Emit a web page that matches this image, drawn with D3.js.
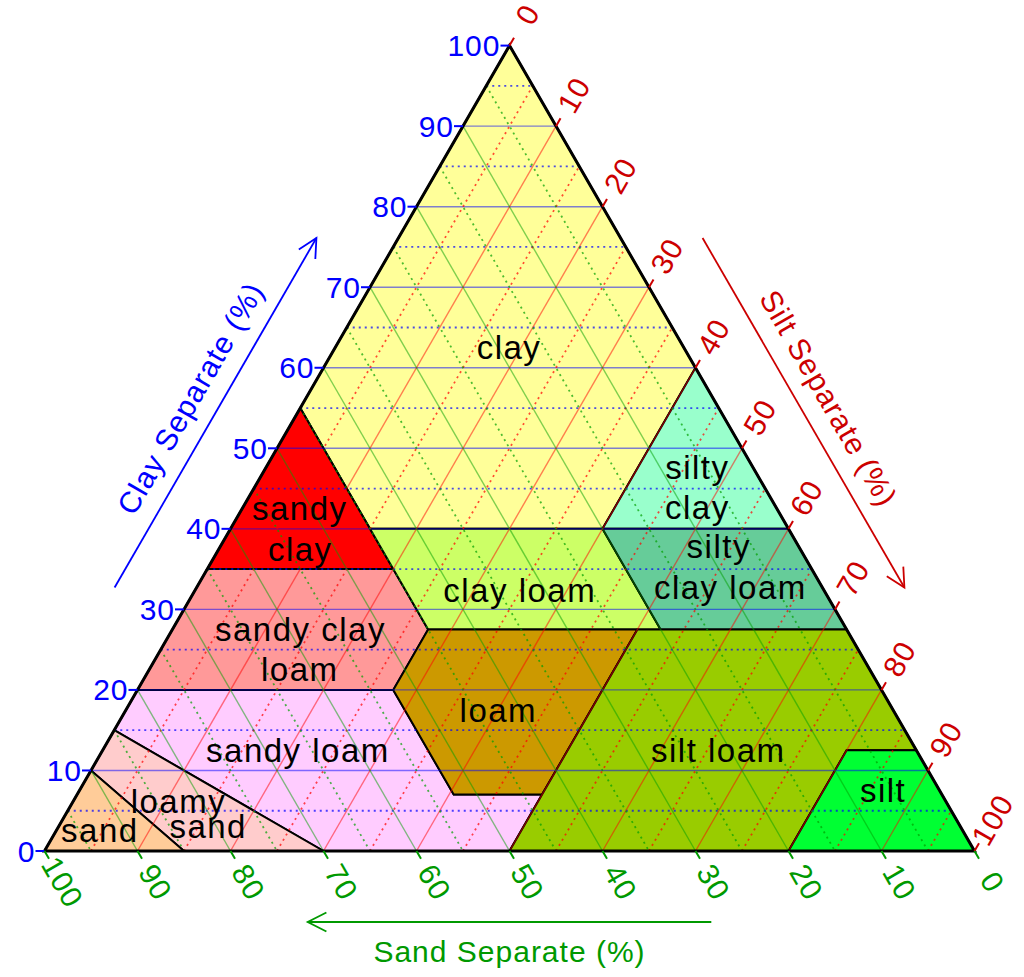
<!DOCTYPE html>
<html><head><meta charset="utf-8">
<script src="https://cdn.jsdelivr.net/npm/d3@7"></script>
<style>
html,body{margin:0;padding:0;background:#fff;}
svg{display:block;font-family:"Liberation Sans",Arial,Helvetica,sans-serif;}
</style></head><body>
<svg id="chart" width="1024" height="977"></svg>
<script>
// ---------------- data ----------------
const tickValues = [0,10,20,30,40,50,60,70,80,90,100];
const majorGrid = [10,20,30,40,50,60,70,80,90];
const minorGrid = [5,15,25,35,45,55,65,75,85,95];

// texture class polygons, vertices as [sand, silt, clay] (%)
const clayPoly          = [[0,40,60],[0,0,100],[45,0,55],[45,15,40],[20,40,40]];
const sandyClayPoly     = [[45,0,55],[65,0,35],[45,20,35],[45,15,40]];
const siltyClayPoly     = [[0,40,60],[20,40,40],[0,60,40]];
const sandyClayLoamPoly = [[80,0,20],[65,0,35],[45,20,35],[45,27.5,27.5],[52.5,27.5,20]];
const clayLoamPoly      = [[45,15,40],[20,40,40],[20,52.5,27.5],[45,27.5,27.5]];
const siltyClayLoamPoly = [[20,40,40],[0,60,40],[0,72.5,27.5],[20,52.5,27.5]];
const sandyLoamPoly     = [[85,0,15],[80,0,20],[52.5,27.5,20],[52.5,40.5,7],[43,50,7],[50,50,0],[70,30,0]];
const loamPoly          = [[45,27.5,27.5],[22.5,50,27.5],[43,50,7],[52.5,40.5,7],[52.5,27.5,20]];
const siltLoamPoly      = [[50,50,0],[43,50,7],[22.5,50,27.5],[0,72.5,27.5],[0,87.5,12.5],[7.5,80,12.5],[20,80,0]];
const siltPoly          = [[20,80,0],[7.5,80,12.5],[0,87.5,12.5],[0,100,0]];
const loamySandPoly     = [[90,0,10],[85,0,15],[70,30,0],[85,15,0]];
const sandPoly          = [[100,0,0],[90,0,10],[85,15,0]];

const classNames  = ["clay","sandy clay","silty clay","sandy clay loam","clay loam","silty clay loam",
                     "sandy loam","loam","silt loam","silt","loamy sand","sand"];
const classPolys  = [clayPoly,sandyClayPoly,siltyClayPoly,sandyClayLoamPoly,clayLoamPoly,siltyClayLoamPoly,
                     sandyLoamPoly,loamPoly,siltLoamPoly,siltPoly,loamySandPoly,sandPoly];
const classColors = ["#ffff99","#ff0000","#99ffcc","#ff9999","#ccff66","#66cc99",
                     "#ffccff","#cc9900","#99cc00","#00ff33","#ffcccc","#ffcc99"];

// label lines and their anchor compositions [sand, clay] (%)
const labelText = ["clay","sandy","clay","silty","clay","silty","clay loam","clay loam",
                   "sandy clay","loam","loam","silt loam","sandy loam","silt","loamy","sand","sand"];
const labelAt   = [[18.8,62.5],[51.3,42.5],[53.8,37.4],[6,47.6],[8.5,42.6],[8.6,37.8],[9.9,32.7],[32.7,32.4],
                   [58.75,27.45],[61.3,22.5],[42.5,17.4],[21.3,12.5],[66.5,12.5],[6.1,7.45],[82.5,6.2],[80.9,3],[92.8,2.5]];

const axisTitles = ["Clay Separate (%)","Silt Separate (%)","Sand Separate (%)"];

// ---------------- layout ----------------
const svg = d3.select("#chart");
const side = 930, x0 = 44.5, y0 = 851;
const hgt = side*Math.sqrt(3)/2;
const X = d3.scaleLinear().domain([0,100]).range([x0, x0+side]);
const Y = d3.scaleLinear().domain([0,100]).range([y0, y0-hgt]);
const pt = (sand, silt, clay) => [X(silt + clay/2), Y(clay)];
const line = d3.line();

const BLUE = "#0000ff", RED = "#cc0000", GREEN = "#009900";
const s3 = Math.sqrt(3)/2;

// polygons
svg.append("g").selectAll("path").data(classPolys).join("path")
  .attr("d", (p) => line(p.map(v => pt(v[0],v[1],v[2]))) + "Z")
  .attr("fill", (p,i) => classColors[i])
  .attr("stroke", "#000").attr("stroke-width", 2).attr("stroke-linejoin","miter");

// grid
const grid = svg.append("g");
function clayLine(c){ return [pt(100-c,0,c), pt(0,100-c,c)]; }
function siltLine(t){ return [pt(100-t,t,0), pt(0,t,100-t)]; }
function sandLine(s){ return [pt(s,0,100-s), pt(s,100-s,0)]; }
const gridSpecs = [
  {f: clayLine, col: "#0000ff"},
  {f: siltLine, col: "#ff0000"},
  {f: sandLine, col: "#00a000"}
];
gridSpecs.forEach(g => {
  grid.append("g").selectAll("path").data(majorGrid).join("path")
    .attr("d", v => line(g.f(v)))
    .attr("fill","none").attr("stroke", g.col).attr("stroke-width", 1.4).attr("stroke-opacity", 0.5);
  grid.append("g").selectAll("path").data(minorGrid).join("path")
    .attr("d", v => line(g.f(v)))
    .attr("fill","none").attr("stroke", g.col).attr("stroke-width", 1.8).attr("stroke-opacity", 0.7)
    .attr("stroke-dasharray","2,4");
});

// outer triangle
svg.append("path")
  .attr("d", line([pt(100,0,0), pt(0,100,0), pt(0,0,100)]) + "Z")
  .attr("fill","none").attr("stroke","#000").attr("stroke-width",3).attr("stroke-linejoin","miter");

// axes: ticks and labels
const axes = [
  {col: BLUE,  pos: v => pt(100-v,0,v), dir: [-1,0], rot: 0},
  {col: RED,   pos: v => pt(0,v,100-v), dir: [0.5,-s3], rot: -60},
  {col: GREEN, pos: v => pt(v,100-v,0), dir: [0.5, s3], rot: 60}
];
const tickLen = 9;
axes.forEach((a, ai) => {
  const g = svg.append("g");
  g.selectAll("line").data(tickValues).join("line")
    .attr("x1", v => a.pos(v)[0]).attr("y1", v => a.pos(v)[1])
    .attr("x2", v => a.pos(v)[0] + a.dir[0]*tickLen).attr("y2", v => a.pos(v)[1] + a.dir[1]*tickLen)
    .attr("stroke", a.col).attr("stroke-width", 2);
  const dist = ai === 0 ? tickLen : tickLen + 27;
  g.selectAll("text").data(tickValues).join("text")
    .attr("transform", v => {
      const p = a.pos(v);
      return `translate(${p[0] + a.dir[0]*dist},${p[1] + a.dir[1]*dist}) rotate(${a.rot})`;
    })
    .attr("text-anchor", ai === 0 ? "end" : "middle")
    .attr("dominant-baseline","central")
    .attr("fill", a.col).style("font-size","30px").style("letter-spacing","1px")
    .text(v => v);
});

// axis arrows and titles
function arrow(g, A, B, col){
  g.append("line").attr("x1",A[0]).attr("y1",A[1]).attr("x2",B[0]).attr("y2",B[1])
    .attr("stroke",col).attr("stroke-width",1.8);
  const ang = Math.atan2(A[1]-B[1], A[0]-B[0]);
  const L = 21, da = 27*Math.PI/180;
  const p1 = [B[0]+L*Math.cos(ang+da), B[1]+L*Math.sin(ang+da)];
  const p2 = [B[0]+L*Math.cos(ang-da), B[1]+L*Math.sin(ang-da)];
  g.append("path").attr("d", line([p1,B,p2])).attr("fill","none").attr("stroke",col).attr("stroke-width",1.8);
}
const titleSpecs = [
  {col: BLUE,  start: pt(100,0,0), u: [0.5,-s3], n: [-s3,-0.5], rot: -60},
  {col: RED,   start: pt(0,0,100), u: [0.5, s3], n: [ s3,-0.5], rot: 60},
  {col: GREEN, start: pt(0,100,0), u: [-1,0],    n: [0,1],      rot: 0}
];
titleSpecs.forEach((t, i) => {
  const g = svg.append("g");
  const at = (f, off) => [t.start[0] + t.u[0]*f*side + t.n[0]*off, t.start[1] + t.u[1]*f*side + t.n[1]*off];
  arrow(g, at(0.283, 71), at(0.717, 71), t.col);
  const c = at(0.5, 100);
  g.append("text").attr("transform", `translate(${c[0]},${c[1]}) rotate(${t.rot})`)
    .attr("text-anchor","middle").attr("dominant-baseline","central")
    .attr("fill", t.col).style("font-size","30px").style("letter-spacing","1px")
    .text(axisTitles[i]);
});

// class labels
svg.append("g").selectAll("text").data(labelText).join("text")
  .attr("x", (d,i) => pt(labelAt[i][0], 100-labelAt[i][0]-labelAt[i][1], labelAt[i][1])[0])
  .attr("y", (d,i) => pt(labelAt[i][0], 100-labelAt[i][0]-labelAt[i][1], labelAt[i][1])[1])
  .attr("text-anchor","middle").attr("dominant-baseline","central")
  .attr("fill","#000").style("font-size","33px").style("letter-spacing","1.5px")
  .text(d => d);
</script>
</body></html>
